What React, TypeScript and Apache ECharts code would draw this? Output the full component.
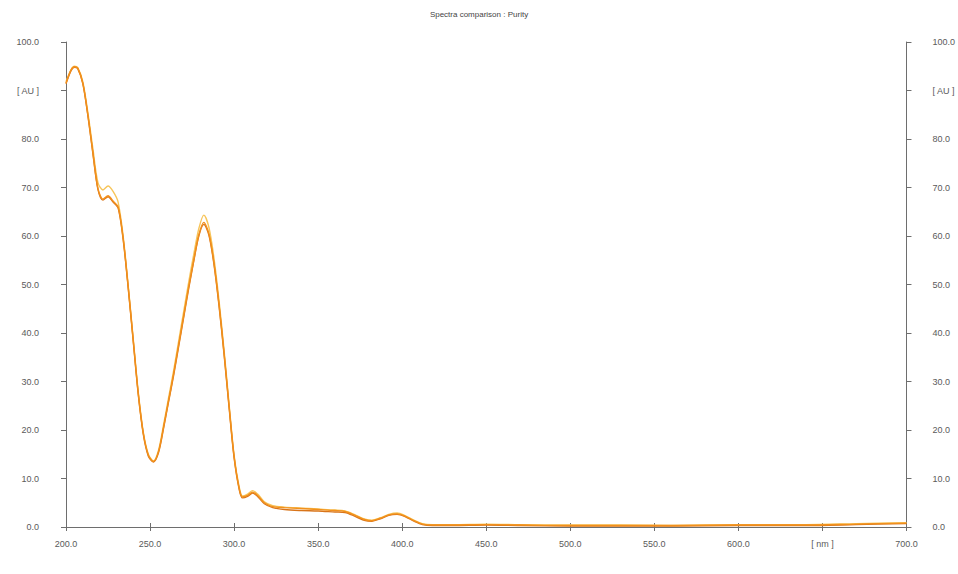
import React, { useEffect, useRef } from "react";
import * as echarts from "echarts";

const chartTitle = "Spectra comparison : Purity";
const xUnitLabel = "[ nm ]";
const yUnitLabel = "[ AU ]";

const wavelengths = [
  200, 203, 205, 207, 210, 213, 216, 219, 222, 225, 228, 231, 234, 237, 240, 243, 246, 249, 252, 255,
  258, 261, 264, 267, 270, 273, 276, 279, 282, 285, 288, 291, 294, 297, 300, 303, 305, 308, 311, 314,
  318, 323, 330, 340, 350, 360, 366, 372, 378, 382, 387, 392, 397, 402, 407, 412, 418, 430, 450, 470,
  500, 530, 560, 600, 640, 670, 700,
];

const spectrumOrange = [
  91.5, 94.2, 94.9, 94.6, 91.5, 85.0, 77.2, 69.8, 67.6, 68.3, 67.2, 66.0, 59.5, 49.5, 38.5, 27.5, 19.3, 14.8, 13.5, 15.5,
  20.5, 26.0, 31.5, 37.5, 43.5, 49.5, 55.0, 60.2, 62.8, 60.5, 54.5, 46.0, 36.0, 25.0, 14.5, 8.0, 6.2, 6.5, 7.2, 6.5,
  5.0, 4.2, 4.0, 3.8, 3.6, 3.4, 3.2, 2.4, 1.5, 1.3, 1.8, 2.5, 2.7, 2.2, 1.3, 0.6, 0.4, 0.4, 0.5, 0.4,
  0.3, 0.3, 0.3, 0.4, 0.4, 0.6, 0.8,
];

const spectrumYellow = [
  91.8, 94.3, 95.0, 94.7, 91.8, 85.5, 78.0, 71.0, 69.5, 70.3, 69.2, 67.0, 60.0, 49.8, 38.8, 27.8, 19.5, 15.0, 13.6, 15.8,
  21.0, 26.6, 32.2, 38.3, 44.4, 50.5, 56.2, 61.5, 64.3, 61.8, 55.5, 46.8, 36.6, 25.4, 14.8, 8.3, 6.4, 6.8, 7.5, 6.8,
  5.2, 4.4, 4.1, 3.9, 3.7, 3.5, 3.3, 2.5, 1.6, 1.4, 1.9, 2.6, 2.9, 2.3, 1.4, 0.7, 0.5, 0.5, 0.6, 0.5,
  0.4, 0.4, 0.3, 0.5, 0.5, 0.7, 0.9,
];

const spectrumDark = [
  91.4, 94.1, 94.8, 94.5, 91.4, 84.8, 77.0, 69.6, 67.4, 68.1, 67.0, 65.8, 59.3, 49.3, 38.3, 27.3, 19.1, 14.6, 13.4, 15.3,
  20.3, 25.8, 31.2, 37.2, 43.2, 49.2, 54.8, 60.0, 62.4, 60.2, 54.2, 45.7, 35.7, 24.7, 14.3, 7.8, 6.0, 6.3, 7.0, 6.3,
  4.8, 4.0, 3.6, 3.4, 3.3, 3.1, 3.0, 2.2, 1.3, 1.2, 1.7, 2.4, 2.6, 2.1, 1.2, 0.5, 0.3, 0.3, 0.4, 0.3,
  0.2, 0.2, 0.2, 0.3, 0.3, 0.5, 0.7,
];

const seriesList = [
  { name: "Spectrum 3", values: spectrumYellow, color: "#f7c55a" },
  { name: "Spectrum 2", values: spectrumDark, color: "#d8741a" },
  { name: "Spectrum 1", values: spectrumOrange, color: "#f2901c" },
];

const labelFont = {
  color: "#5a5a5a",
  fontSize: 9,
  fontFamily: "Liberation Sans, Arial, sans-serif",
};

const axisLineStyle = { color: "#6e6e6e", width: 1 };

function xFormatter(v: number) {
  return v === 650 ? xUnitLabel : v.toFixed(1);
}
function yFormatter(v: number) {
  return v === 90 ? yUnitLabel : v.toFixed(1);
}

export default function App() {
  const ref = useRef<HTMLDivElement>(null);

  useEffect(() => {
    if (!ref.current) return;
    const chart = echarts.init(ref.current, undefined, { renderer: "svg" });

    const commonX = {
      type: "value" as const,
      min: 200,
      max: 700,
      interval: 50,
      splitLine: { show: false },
      axisLine: { show: true, lineStyle: axisLineStyle },
      axisTick: { show: true, inside: false, length: 4, lineStyle: axisLineStyle },
    };
    const commonY = {
      type: "value" as const,
      min: 0,
      max: 100,
      interval: 10,
      splitLine: { show: false },
      axisLine: { show: true, lineStyle: axisLineStyle },
      axisTick: { show: true, inside: false, length: 5, lineStyle: axisLineStyle },
    };

    chart.setOption({
      animation: false,
      backgroundColor: "#ffffff",
      title: {
        text: chartTitle,
        left: "center",
        top: 5,
        textStyle: { ...labelFont, fontSize: 8, fontWeight: "normal", color: "#444" },
      },
      grid: { left: 66, right: 45, top: 42, bottom: 47, containLabel: false },
      xAxis: [
        {
          ...commonX,
          position: "bottom",
          axisLabel: { ...labelFont, margin: 12, formatter: xFormatter },
        },
        {
          ...commonX,
          position: "top",
          axisLabel: { show: false },
        },
      ],
      yAxis: [
        {
          ...commonY,
          position: "left",
          axisLabel: { ...labelFont, margin: 27, formatter: yFormatter },
        },
        {
          ...commonY,
          position: "right",
          axisLabel: { ...labelFont, margin: 26, formatter: yFormatter },
        },
      ],
      series: seriesList.map((s) => ({
        name: s.name,
        type: "line",
        xAxisIndex: 0,
        yAxisIndex: 0,
        smooth: 0.3,
        showSymbol: false,
        symbol: "none",
        lineStyle: { color: s.color, width: 1.4 },
        data: wavelengths.map((w, i) => [w, s.values[i]]),
      })),
    });

    return () => chart.dispose();
  }, []);

  return (
    <div
      ref={ref}
      style={{ position: "fixed", left: 0, top: 0, width: 958, height: 574, background: "#fff" }}
    />
  );
}
